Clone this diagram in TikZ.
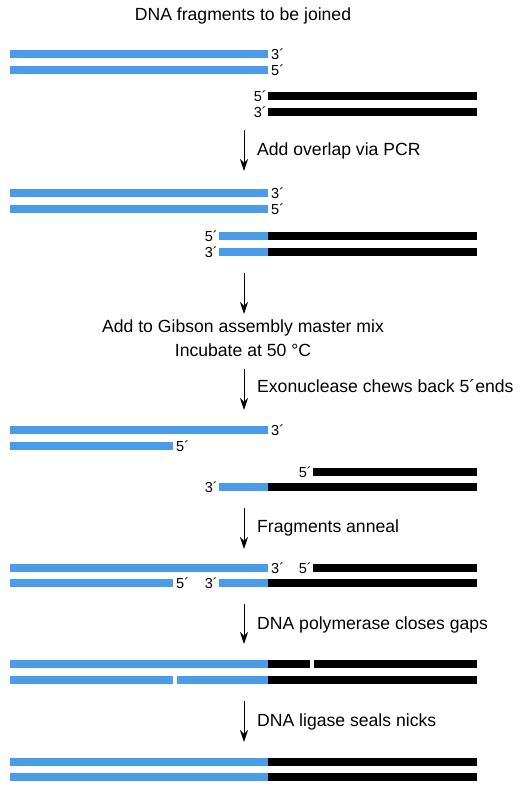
\documentclass[tikz,border=0pt]{standalone}
\usepackage{fontspec}
\setmainfont{Liberation Sans}
\usetikzlibrary{arrows.meta}
\definecolor{dnablue}{RGB}{74,155,232}
\tikzset{
  bl/.style={fill=dnablue},
  bk/.style={fill=black},
  endlab/.style={inner sep=0pt, font=\fontsize{14.5}{16}\selectfont},
  steptext/.style={inner sep=0pt, font=\fontsize{17.6}{21}\selectfont, anchor=west},
  headtext/.style={inner sep=0pt, font=\fontsize{17.6}{21}\selectfont},
  steparrow/.style={-{Stealth[length=12pt,width=8pt]}, line width=1pt}
}
\newcommand{\strand}[4]{\fill[#4] (#1,#3-3.75) rectangle (#2,#3+3.75);}
\begin{document}
\begin{tikzpicture}[x=1pt,y=-1pt]
\useasboundingbox (0,0) rectangle (525,791);
% title
\node[headtext] (title) at (243,16) {DNA fragments to be joined};
% group 1
\strand{10}{268}{54}{bl}
\strand{10}{268}{70}{bl}
\node[endlab,anchor=west] (g1a) at (271,54) {3´};
\node[endlab,anchor=west] (g1b) at (271,70) {5´};
\strand{268}{477}{96}{bk}
\strand{268}{477}{112}{bk}
\node[endlab,anchor=east] (g1c) at (267,96) {5´};
\node[endlab,anchor=east] (g1d) at (267,112) {3´};
% arrow 1
\coordinate (a1s) at (244,130);
\coordinate (a1e) at (244,171);
\draw[steparrow] (a1s) -- (a1e);
\node[steptext] (t1) at (257,151) {Add overlap via PCR};
% group 2
\strand{10}{268}{193}{bl}
\strand{10}{268}{209}{bl}
\node[endlab,anchor=west] (g2a) at (271,193) {3´};
\node[endlab,anchor=west] (g2b) at (271,209) {5´};
\strand{219}{268}{236}{bl}
\strand{268}{477}{236}{bk}
\strand{219}{268}{252}{bl}
\strand{268}{477}{252}{bk}
\node[endlab,anchor=east] (g2c) at (218,236) {5´};
\node[endlab,anchor=east] (g2d) at (218,252) {3´};
% arrow 2
\coordinate (a2s) at (244,273);
\coordinate (a2e) at (244,314);
\draw[steparrow] (a2s) -- (a2e);
\node[headtext] (t2a) at (243,328) {Add to Gibson assembly master mix};
\node[headtext] (t2b) at (243,350) {Incubate at 50 °C};
% arrow 3
\coordinate (a3s) at (244,369);
\coordinate (a3e) at (244,410);
\draw[steparrow] (a3s) -- (a3e);
\node[steptext] (t3) at (257,386) {Exonuclease chews back 5´ends};
% group 3
\strand{10}{268}{430}{bl}
\node[endlab,anchor=west] (g3a) at (271,430) {3´};
\strand{10}{173}{446}{bl}
\node[endlab,anchor=west] (g3b) at (176,446) {5´};
\strand{313}{477}{472}{bk}
\node[endlab,anchor=east] (g3c) at (312,472) {5´};
\strand{219}{268}{487}{bl}
\strand{268}{477}{487}{bk}
\node[endlab,anchor=east] (g3d) at (218,487) {3´};
% arrow 4
\coordinate (a4s) at (244,508);
\coordinate (a4e) at (244,549);
\draw[steparrow] (a4s) -- (a4e);
\node[steptext] (t4) at (257,528) {Fragments anneal};
% group 4
\strand{10}{268}{568}{bl}
\node[endlab,anchor=west] (g4a) at (271,568) {3´};
\strand{313}{477}{568}{bk}
\node[endlab,anchor=east] (g4b) at (312,568) {5´};
\strand{10}{173}{583}{bl}
\node[endlab,anchor=west] (g4c) at (176,583) {5´};
\strand{219}{268}{583}{bl}
\strand{268}{477}{583}{bk}
\node[endlab,anchor=east] (g4d) at (218,583) {3´};
% arrow 5
\coordinate (a5s) at (244,604);
\coordinate (a5e) at (244,644);
\draw[steparrow] (a5s) -- (a5e);
\node[steptext] (t5) at (257,625) {DNA polymerase closes gaps};
% group 5
\strand{10}{268}{664}{bl}
\strand{268}{310}{664}{bk}
\strand{314}{477}{664}{bk}
\strand{10}{173}{680}{bl}
\strand{177}{268}{680}{bl}
\strand{268}{477}{680}{bk}
% arrow 6
\coordinate (a6s) at (244,701);
\coordinate (a6e) at (244,742);
\draw[steparrow] (a6s) -- (a6e);
\node[steptext] (t6) at (257,722) {DNA ligase seals nicks};
% group 6
\strand{10}{268}{762}{bl}
\strand{268}{477}{762}{bk}
\strand{10}{268}{777}{bl}
\strand{268}{477}{777}{bk}
\end{tikzpicture}
\end{document}
